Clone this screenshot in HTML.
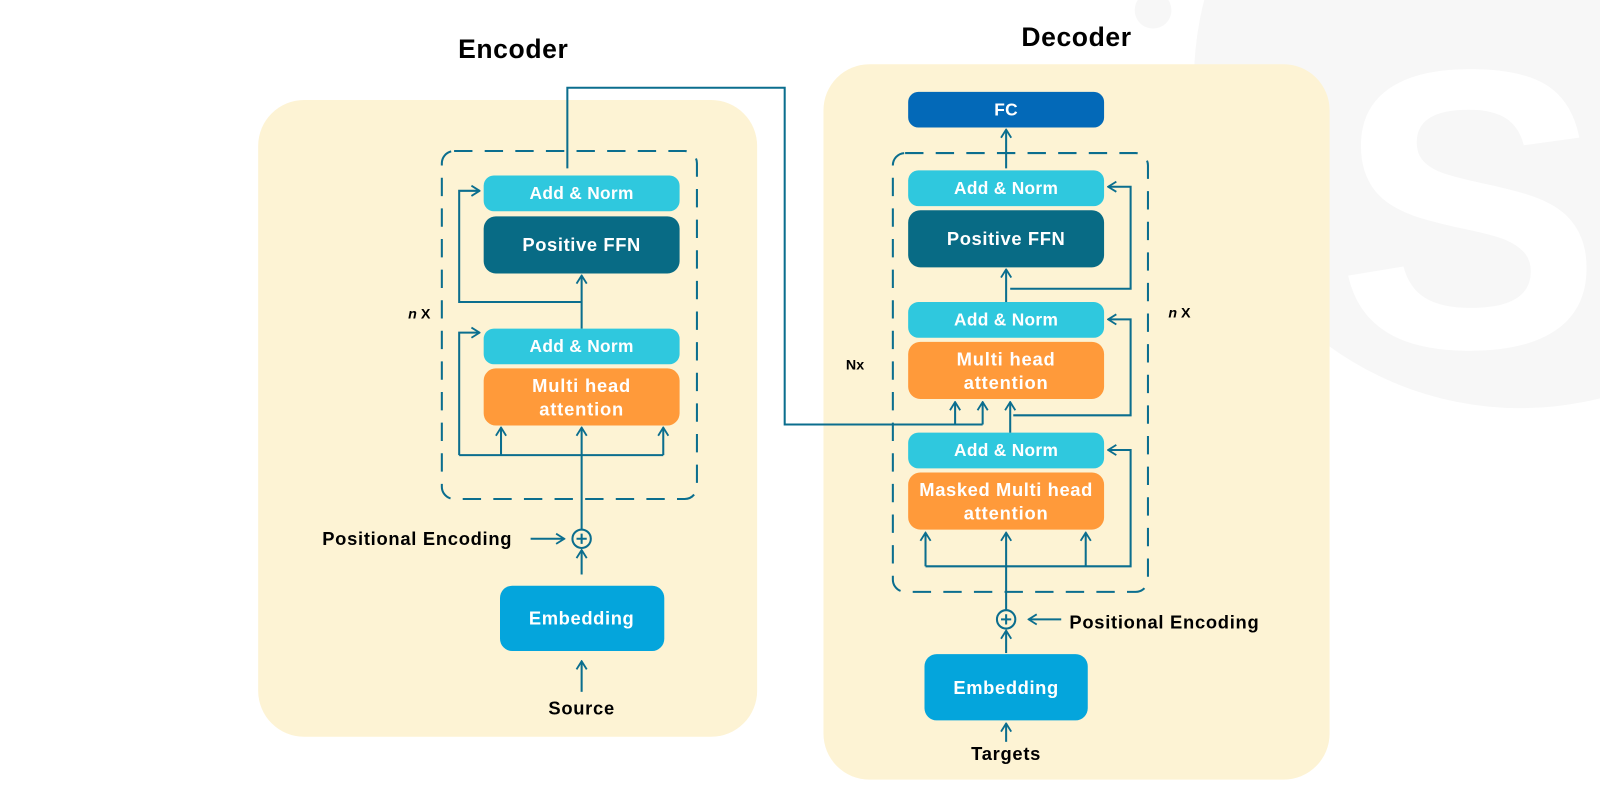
<!DOCTYPE html>
<html><head><meta charset="utf-8"><style>
html,body{margin:0;padding:0;background:#fff;}
svg{display:block;}
text{font-family:"Liberation Sans",sans-serif;font-weight:bold;}
</style></head><body>
<svg width="1600" height="800" viewBox="0 0 1568 784" xmlns="http://www.w3.org/2000/svg">
<defs>
<marker id="a" viewBox="0 0 12 12" refX="11" refY="6" markerWidth="12" markerHeight="12" markerUnits="userSpaceOnUse" orient="auto">
<path d="M3,1 L11,6 L3,11" fill="none" stroke="#0b6e8e" stroke-width="1.8"/>
</marker>
</defs>
<!-- watermark -->
<circle cx="1490" cy="80" r="320" fill="#f7f7f7"/>
<circle cx="1130" cy="10" r="18" fill="#f7f7f7"/>
<text x="1440" y="340" font-size="390" fill="#fff" text-anchor="middle">S</text>

<!-- panels -->
<rect x="253" y="98" width="489" height="624" rx="45" fill="#fdf3d4"/>
<rect x="807" y="63" width="496" height="701" rx="45" fill="#fdf3d4"/>
<text x="503" y="57" font-size="26" letter-spacing="0.6" text-anchor="middle" fill="#000">Encoder</text>
<text x="1055" y="45" font-size="26" letter-spacing="0.6" text-anchor="middle" fill="#000">Decoder</text>

<g fill="none" stroke="#0b6e8e" stroke-width="2">
<rect x="433" y="148" width="250" height="341" rx="12" stroke-dasharray="18,12"/>
<rect x="875" y="150" width="250" height="430" rx="12" stroke-dasharray="18,12"/>
</g>

<!-- encoder boxes -->
<rect x="474" y="172" width="192" height="35" rx="10" fill="#2fc8de"/>
<rect x="474" y="212" width="192" height="56" rx="12" fill="#086b85"/>
<rect x="474" y="322" width="192" height="35" rx="10" fill="#2fc8de"/>
<rect x="474" y="361" width="192" height="56" rx="12" fill="#ff9a3a"/>
<rect x="490" y="574" width="161" height="64" rx="12" fill="#04a5dc"/>
<g fill="#fff" font-size="17" text-anchor="middle" letter-spacing="0.3">
<text x="570" y="195">Add &amp; Norm</text>
<text x="570" y="246" font-size="18" letter-spacing="0.6">Positive FFN</text>
<text x="570" y="345">Add &amp; Norm</text>
<text x="570" y="384" font-size="18" letter-spacing="0.8">Multi head</text>
<text x="570" y="407" font-size="18" letter-spacing="0.8">attention</text>
<text x="570" y="612" font-size="18" letter-spacing="0.6">Embedding</text>
</g>

<!-- decoder boxes -->
<rect x="890" y="90" width="192" height="35" rx="10" fill="#0369b8"/>
<rect x="890" y="167" width="192" height="35" rx="10" fill="#2fc8de"/>
<rect x="890" y="206" width="192" height="56" rx="12" fill="#086b85"/>
<rect x="890" y="296" width="192" height="35" rx="10" fill="#2fc8de"/>
<rect x="890" y="335" width="192" height="56" rx="12" fill="#ff9a3a"/>
<rect x="890" y="424" width="192" height="35" rx="10" fill="#2fc8de"/>
<rect x="890" y="463" width="192" height="56" rx="12" fill="#ff9a3a"/>
<rect x="906" y="641" width="160" height="65" rx="12" fill="#04a5dc"/>
<g fill="#fff" font-size="17" text-anchor="middle" letter-spacing="0.3">
<text x="986" y="113">FC</text>
<text x="986" y="190">Add &amp; Norm</text>
<text x="986" y="240" font-size="18" letter-spacing="0.6">Positive FFN</text>
<text x="986" y="319">Add &amp; Norm</text>
<text x="986" y="358" font-size="18" letter-spacing="0.8">Multi head</text>
<text x="986" y="381" font-size="18" letter-spacing="0.8">attention</text>
<text x="986" y="447">Add &amp; Norm</text>
<text x="986" y="486" font-size="18" letter-spacing="0.6">Masked Multi head</text>
<text x="986" y="509" font-size="18" letter-spacing="0.8">attention</text>
<text x="986" y="680" font-size="18" letter-spacing="0.6">Embedding</text>
</g>

<!-- labels -->
<g fill="#000" font-size="18" letter-spacing="0.7">
<text x="502" y="534" text-anchor="end">Positional Encoding</text>
<text x="570" y="700" text-anchor="middle">Source</text>
<text x="1048" y="616">Positional Encoding</text>
<text x="986" y="745" text-anchor="middle">Targets</text>
<text x="400" y="312" font-size="14" letter-spacing="0"><tspan font-style="italic">n</tspan> X</text>
<text x="1145" y="311" font-size="14" letter-spacing="0"><tspan font-style="italic">n</tspan> X</text>
<text x="829" y="362" font-size="14" letter-spacing="0">Nx</text>
</g>

<!-- encoder connectors -->
<g fill="none" stroke="#0b6e8e" stroke-width="2">
<path d="M570,322 L570,270" marker-end="url(#a)"/>
<path d="M570,296 L450,296 L450,187 L470,187" marker-end="url(#a)"/>
<path d="M450,446 L650,446"/>
<path d="M491,446 L491,419" marker-end="url(#a)"/>
<path d="M570,446 L570,419" marker-end="url(#a)"/>
<path d="M650,446 L650,419" marker-end="url(#a)"/>
<path d="M450,446 L450,326 L470,326" marker-end="url(#a)"/>
<path d="M570,446 L570,519"/>
<circle cx="570" cy="528" r="9"/>
<path d="M565,528 L575,528 M570,523 L570,533"/>
<path d="M570,563 L570,539" marker-end="url(#a)"/>
<path d="M520,528 L553,528" marker-end="url(#a)"/>
<path d="M570,678 L570,648" marker-end="url(#a)"/>
<path d="M556,165 L556,86 L769,86 L769,416 L963,416"/>
<path d="M936,416 L936,394" marker-end="url(#a)"/>
<path d="M963,416 L963,394" marker-end="url(#a)"/>

<!-- decoder connectors -->
<path d="M986,165 L986,127" marker-end="url(#a)"/>
<path d="M986,296 L986,264" marker-end="url(#a)"/>
<path d="M990,283 L1108,283 L1108,183 L1086,183" marker-end="url(#a)"/>
<path d="M990,424 L990,394" marker-end="url(#a)"/>
<path d="M993,407 L1108,407 L1108,313 L1086,313" marker-end="url(#a)"/>
<path d="M907,555 L1108,555 L1108,441 L1086,441" marker-end="url(#a)"/>
<path d="M907,555 L907,522" marker-end="url(#a)"/>
<path d="M986,555 L986,522" marker-end="url(#a)"/>
<path d="M1064,555 L1064,522" marker-end="url(#a)"/>
<path d="M986,555 L986,598"/>
<circle cx="986" cy="607" r="9"/>
<path d="M981,607 L991,607 M986,602 L986,612"/>
<path d="M986,640 L986,618" marker-end="url(#a)"/>
<path d="M1040,607 L1008,607" marker-end="url(#a)"/>
<path d="M986,727 L986,709" marker-end="url(#a)"/>
</g>
</svg>
</body></html>
